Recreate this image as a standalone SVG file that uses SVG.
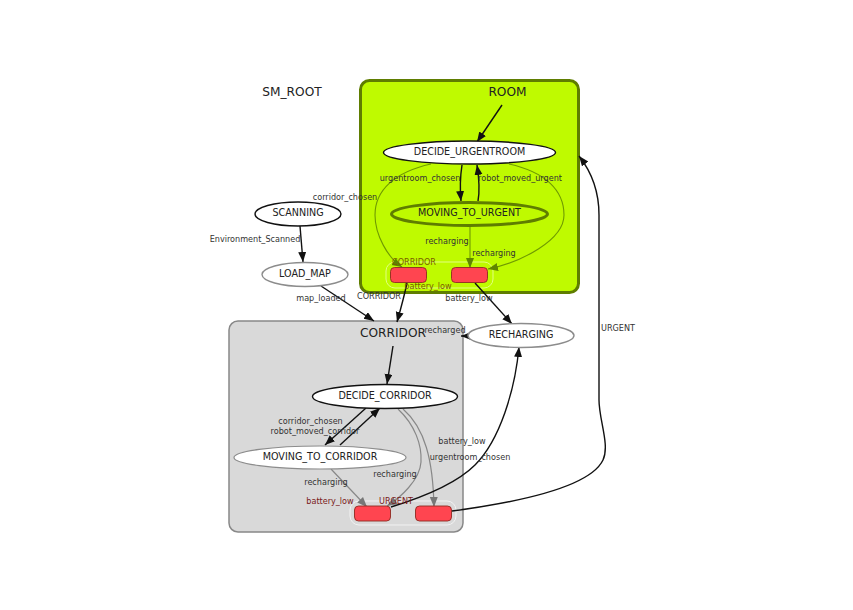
<svg xmlns="http://www.w3.org/2000/svg" width="853" height="610" viewBox="0 0 853 610">
<style>
text{font-family:"DejaVu Sans",sans-serif;text-anchor:middle;fill:#222}
.n{font-size:9.6px}
.l{font-size:8.1px;fill:#333}
.t{font-size:12.2px}
.o{font-size:8.1px;fill:#7a1a1a}
.oy{font-size:8.1px;fill:#7a5a00}
.e{fill:none;stroke:#111;stroke-width:1.4}
.g{fill:none;stroke:#888;stroke-width:1.2}
.y{fill:none;stroke:#6f9a00;stroke-width:1.1}
.st{fill:#fff;stroke:#111;stroke-width:1.4}
.st2{fill:#fff;stroke:#8c8c8c;stroke-width:1.4}
.oc{fill:#ff4550;stroke:#8f2a20;stroke-width:.9}
</style>
<defs>
<marker id="a" markerUnits="userSpaceOnUse" markerWidth="11" markerHeight="9" refX="10" refY="4" orient="auto"><path d="M0 0L10 4L0 8z" fill="#111"/></marker>
<marker id="b" markerUnits="userSpaceOnUse" markerWidth="11" markerHeight="9" refX="10" refY="4" orient="auto"><path d="M0 0L10 4L0 8z" fill="#777"/></marker>
<marker id="c" markerUnits="userSpaceOnUse" markerWidth="11" markerHeight="9" refX="10" refY="4" orient="auto"><path d="M0 0L10 4L0 8z" fill="#5f8500"/></marker>
</defs>
<rect width="853" height="610" fill="#fff"/>
<g id="ROOM">
<rect x="360.500" y="80.500" width="218" height="212" rx="9" fill="#bffa00" stroke="#5f7d00" stroke-width="3"/>
<rect x="386" y="262" width="107" height="26" rx="9" fill="none" stroke="#e2ff80" stroke-width="1"/>
<text class="t" x="507.500" y="96">ROOM</text>
</g>
<g id="CORRIDOR">
<rect x="229" y="321" width="234" height="211" rx="9" fill="#d9d9d9" stroke="#888" stroke-width="1.5"/>
<rect x="350" y="501" width="106" height="24" rx="9" fill="none" stroke="#f2f2f2" stroke-width="1"/>
<text class="t" x="393" y="337">CORRIDOR</text>
</g>
<text id="SM_ROOT" class="t" x="292" y="96">SM_ROOT</text>
<g id="connectors">
<path class="e" marker-end="url(#a)" d="M502 105L477 142"/>
<path class="e" marker-end="url(#a)" d="M462 165C460 178 460 190 461 201"/>
<path class="e" marker-end="url(#a)" d="M478 201C480 190 479 178 477 165"/>
<path class="y" marker-end="url(#c)" d="M431 164C395 172 375 190 375 215C375 235 388 258 402 267"/>
<path class="y" marker-end="url(#c)" d="M509 164C545 172 564 190 564 215C564 240 522 262 488 269"/>
<path class="y" marker-end="url(#c)" d="M470 227L470 268"/>
<path class="e" marker-end="url(#a)" d="M300 226L303 262"/>
<path class="e" marker-end="url(#a)" d="M321 286L374 321"/>
<path class="e" marker-end="url(#a)" d="M407 283C404 297 401 308 397 322"/>
<path class="e" marker-end="url(#a)" d="M475 283L512 324"/>
<path class="e" marker-end="url(#a)" d="M393 346L387 384"/>
<path class="e" marker-end="url(#a)" d="M366 408L325 445"/>
<path class="e" marker-end="url(#a)" d="M340 445L380 408"/>
<path class="g" marker-end="url(#b)" d="M331 469L367 507"/>
<path class="g" marker-end="url(#b)" d="M398 409C415 425 422 445 421 462C420 480 400 498 387 506"/>
<path class="g" marker-end="url(#b)" d="M403 409C425 428 433 460 434 507"/>
<path class="e" marker-end="url(#a)" d="M391 507C430 495 460 480 475 465C500 440 515 390 519 347"/>
<path class="e" marker-end="url(#a)" d="M452 511C520 502 590 487 603 460C610 445 599 420 599 400L599 215C599 190 590 170 579 156"/>
<path class="e" marker-end="url(#a)" d="M467 336L461 336"/>
</g>
<g id="DECIDE_URGENTROOM"><ellipse class="st" cx="469.500" cy="152.500" rx="86" ry="11.500"/><text class="n" x="469.500" y="155">DECIDE_URGENTROOM</text></g>
<g id="MOVING_TO_URGENT"><ellipse cx="469.500" cy="214" rx="78" ry="11.500" fill="#bffa00" stroke="#5f7d00" stroke-width="3"/><text class="n" x="469.500" y="216">MOVING_TO_URGENT</text></g>
<g id="SCANNING"><ellipse class="st" cx="298" cy="214" rx="43" ry="12"/><text class="n" x="298" y="216">SCANNING</text></g>
<g id="LOAD_MAP"><ellipse class="st2" cx="305" cy="274.500" rx="43" ry="12"/><text class="n" x="305" y="277">LOAD_MAP</text></g>
<g id="RECHARGING"><ellipse class="st2" cx="521" cy="335.500" rx="53" ry="12"/><text class="n" x="521" y="338">RECHARGING</text></g>
<g id="DECIDE_CORRIDOR"><ellipse class="st" cx="385" cy="396.500" rx="72.500" ry="12"/><text class="n" x="385" y="398.500">DECIDE_CORRIDOR</text></g>
<g id="MOVING_TO_CORRIDOR"><ellipse cx="320" cy="457.500" rx="86" ry="11.500" fill="#fff" stroke="#8c8c8c" stroke-width="1.2"/><text class="n" x="320" y="460">MOVING_TO_CORRIDOR</text></g>
<g id="room_outcome_corridor"><rect class="oc" x="390.500" y="267.500" width="36" height="15" rx="4"/></g>
<g id="room_outcome_battery"><rect class="oc" x="451.500" y="267.500" width="36" height="15" rx="4"/></g>
<g id="corridor_outcome_battery"><rect class="oc" x="354.500" y="506" width="36" height="15" rx="4"/></g>
<g id="corridor_outcome_urgent"><rect class="oc" x="415.500" y="506" width="36" height="15" rx="4"/></g>
<g id="labels">
<text class="l" x="345" y="199.500">corridor_chosen</text>
<text class="l" x="420" y="181">urgentroom_chosen</text>
<text class="l" x="520" y="181">robot_moved_urgent</text>
<text class="l" x="447" y="244">recharging</text>
<text class="l" x="494" y="256">recharging</text>
<text class="l" x="255" y="241.500">Environment_Scanned</text>
<text class="l" x="321" y="300.500">map_loaded</text>
<text class="l" x="379" y="299">CORRIDOR</text>
<text class="oy" x="414" y="264.500">CORRIDOR</text>
<text class="oy" x="428" y="288.500">battery_low</text>
<text class="l" x="469" y="300.500">battery_low</text>
<text class="l" x="445" y="333">recharged</text>
<text class="l" x="618" y="330.500">URGENT</text>
<text class="l" x="310.500" y="423.500">corridor_chosen</text>
<text class="l" x="315" y="433.500">robot_moved_corridor</text>
<text class="l" x="462" y="443.500">battery_low</text>
<text class="l" x="470" y="459.500">urgentroom_chosen</text>
<text class="l" x="395" y="476.500">recharging</text>
<text class="l" x="326" y="484.500">recharging</text>
<text class="o" x="330" y="503.500">battery_low</text>
<text class="o" x="396" y="503.500">URGENT</text>
</g>
</svg>
